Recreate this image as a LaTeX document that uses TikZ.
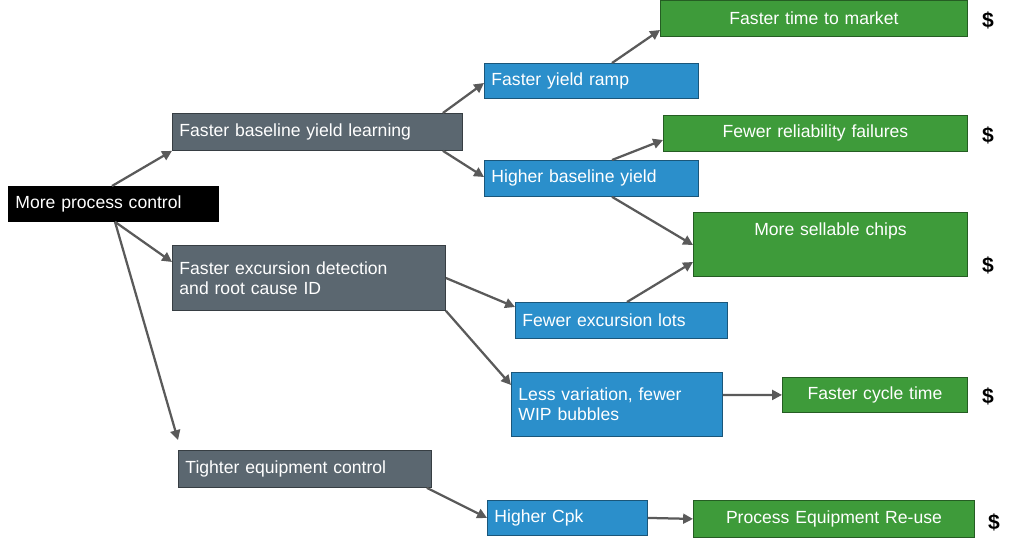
\documentclass[tikz,border=0pt]{standalone}
\usepackage{fontspec}
\setmainfont{Liberation Sans}
\usetikzlibrary{arrows.meta}
\definecolor{gbox}{HTML}{5B6770}
\definecolor{bbox}{HTML}{2B8FCB}
\definecolor{grbox}{HTML}{3E9B3A}
\definecolor{arr}{HTML}{5A5A5A}
\tikzset{
 bx/.style n args={3}{draw=#1!60!black, line width=0.6pt, fill=#1, text=white, anchor=north west,
   minimum width=#2*0.025cm, minimum height=#3*0.025cm, inner xsep=5pt, inner ysep=2pt,
   font=\fontsize{12.5}{14.5}\selectfont},
 lb/.style={align=left},
 cb/.style={align=center},
 con/.style={draw=arr, line width=1.6pt, -{Triangle[length=7pt,width=7pt]}},
 dol/.style={font=\fontsize{15}{17}\selectfont\bfseries},
}
\begin{document}
\begin{tikzpicture}[x=0.025cm,y=-0.025cm]
\useasboundingbox (0,0) rectangle (1024,551);
\node[bx={black}{206}{35}, text width=196*0.025cm-10pt+10pt, lb] (mpc) at (8,186) {More process control};
\node[bx={gbox}{286}{37}, text width=276*0.025cm, lb] (fbyl) at (172,113) {Faster baseline yield learning};
\node[bx={gbox}{269}{65}, text width=259*0.025cm, lb] (fed) at (172,245) {Faster excursion detection\\and root cause ID};
\node[bx={gbox}{249}{37}, text width=239*0.025cm, lb] (tec) at (178,450) {Tighter equipment control};
\node[bx={bbox}{210}{35}, text width=200*0.025cm, lb] (fyr) at (484,63) {Faster yield ramp};
\node[bx={bbox}{210}{36}, text width=200*0.025cm, lb] (hby) at (484,160) {Higher baseline yield};
\node[bx={bbox}{208}{36}, text width=198*0.025cm, lb] (fel) at (515,302) {Fewer excursion lots};
\node[bx={bbox}{207}{64}, text width=197*0.025cm, lb] (lv) at (511,372) {Less variation, fewer\\WIP bubbles};
\node[bx={bbox}{156}{35}, text width=146*0.025cm, lb] (cpk) at (487,500) {Higher Cpk};
\node[bx={grbox}{303}{36}, text width=293*0.025cm, cb] (ftm) at (660,0) {Faster time to market};
\node[bx={grbox}{300}{36}, text width=290*0.025cm, cb] (frf) at (663,115) {Fewer reliability failures};
\node[bx={grbox}{270}{64}, text width=260*0.025cm, cb, text depth=22pt] (msc) at (693,212) {More sellable chips};
\node[bx={grbox}{181}{35}, text width=171*0.025cm, cb] (fct) at (782,377) {Faster cycle time};
\node[bx={grbox}{277}{37}, text width=267*0.025cm, cb] (per) at (693,500) {Process Equipment Re-use};
\node[dol] (d1) at (988,20) {\$};
\node[dol] (d2) at (988,135) {\$};
\node[dol] (d3) at (988,265) {\$};
\node[dol] (d4) at (988,396) {\$};
\node[dol] (d5) at (994,522) {\$};
\draw[con] (mpc.north west) ++(104,0) coordinate (a1) -- (fbyl.south west);
\draw[con] (mpc.south west) ++(107,0) -- ([yshift=-17*0.025cm]fed.north west);
\draw[con] (mpc.south west) ++(107,0) -- ([yshift=10*0.025cm]tec.north west);
\draw[con] ([xshift=-20*0.025cm]fbyl.north east) -- ([yshift=-20*0.025cm]fyr.north west);
\draw[con] ([xshift=-20*0.025cm]fbyl.south east) -- ([yshift=-17*0.025cm]hby.north west);
\draw[con] ([xshift=128*0.025cm]fyr.north west) -- ([yshift=-30*0.025cm]ftm.north west);
\draw[con] ([xshift=128*0.025cm]hby.north west) -- ([yshift=-25*0.025cm]frf.north west);
\draw[con] ([xshift=128*0.025cm]hby.south west) -- ([yshift=-33*0.025cm]msc.north west);
\draw[con] ([yshift=-33*0.025cm]fed.north east) -- ([yshift=-5*0.025cm]fel.north west);
\draw[con] (fed.south east) -- ([yshift=-13*0.025cm]lv.north west);
\draw[con] ([xshift=112*0.025cm]fel.north west) -- ([yshift=-50*0.025cm]msc.north west);
\draw[con] ([yshift=-23*0.025cm]lv.north east) -- (fct.west);
\draw[con] ([xshift=-5*0.025cm]tec.south east) -- (cpk.west);
\draw[con] (cpk.east) -- (per.west);
\end{tikzpicture}
\end{document}
